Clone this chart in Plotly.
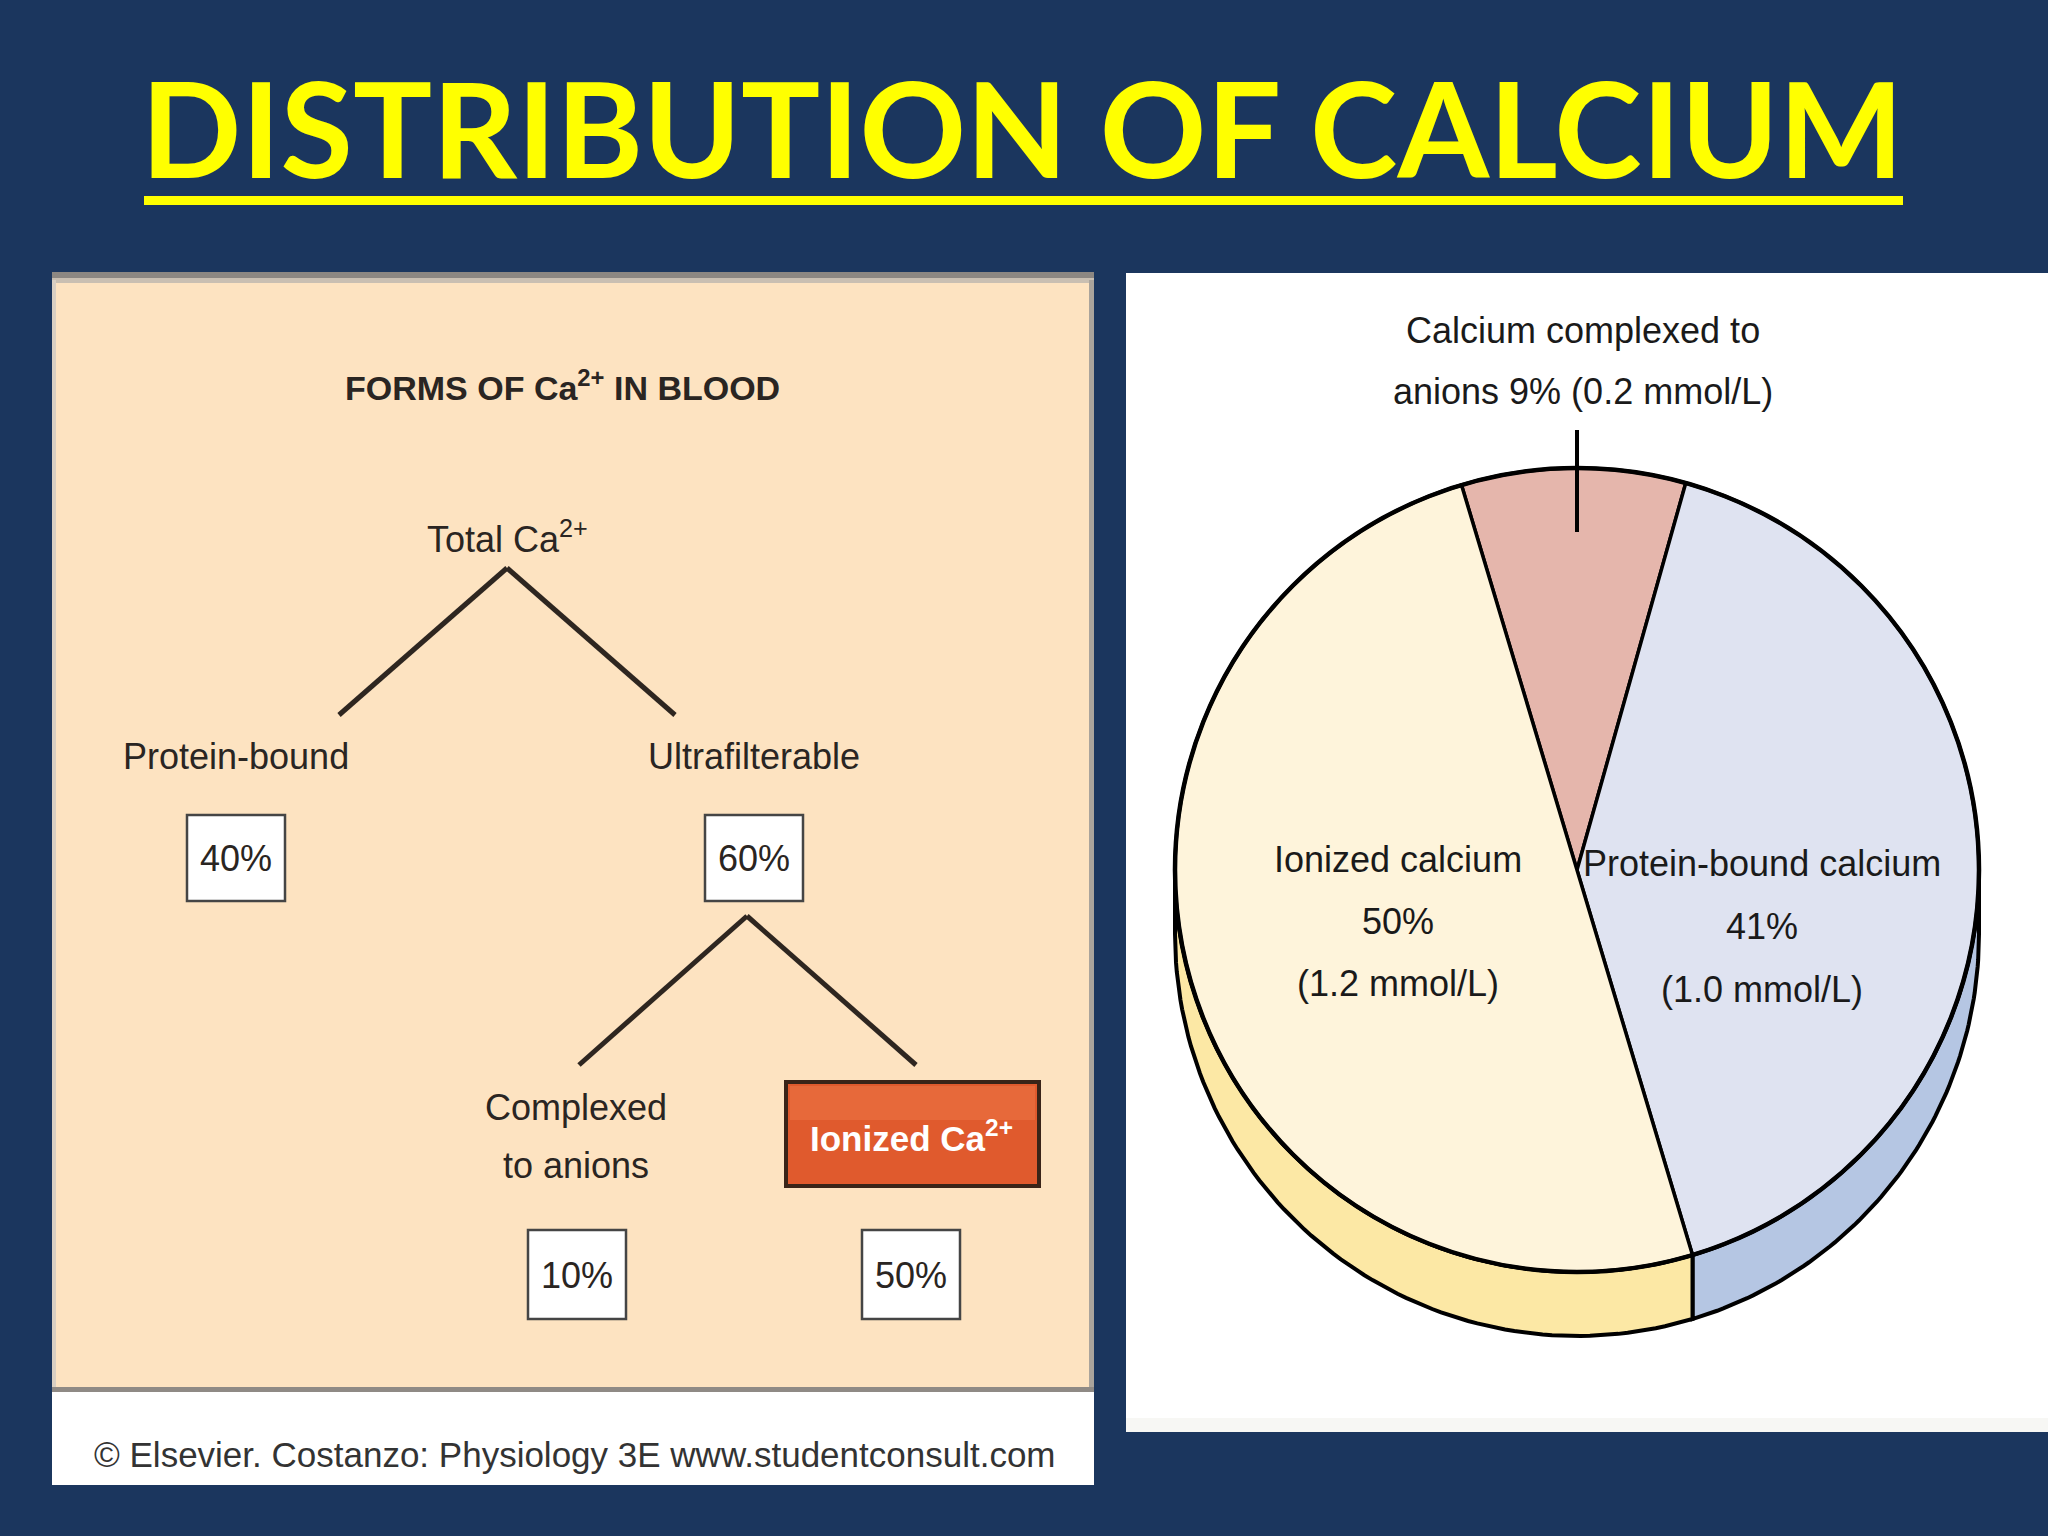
import numpy as np
import plotly.graph_objects as go

W, H = 2048, 1536

# ---------------- data ----------------
title_text = "DISTRIBUTION OF CALCIUM"
panel_title = "FORMS OF Ca<sup>2+</sup> IN BLOOD"
tree_root = "Total Ca<sup>2+</sup>"
tree_level1 = ["Protein-bound", "Ultrafilterable"]
tree_level1_pct = [40, 60]
tree_level2 = ["Complexed<br>to anions", "Ionized Ca<sup>2+</sup>"]
tree_level2_pct = [10, 50]
footer_text = "© Elsevier. Costanzo: Physiology 3E www.studentconsult.com"

pie_names = ["Calcium complexed to anions", "Protein-bound calcium", "Ionized calcium"]
pie_values = [9, 41, 50]
pie_mmol = [0.2, 1.0, 1.2]

# ---------------- styles / positions ----------------
BG = "#1b365e"
SANS = "Liberation Sans, Arial, sans-serif"
TXT = "#2a2522"
PEACH = "#fde3c1"
top_colors = ["#e5b6ac", "#dfe3f1", "#fef4db"]
side_colors = ["#d9a093", "#b5c6e3", "#fce8a5"]

PIE_CX, PIE_CY, PIE_R, PIE_DEPTH = 1577, 870, 402, 64
PIE_ROT = -16.7
LBL = 36

fig = go.Figure()
shapes = []
ann = []


def rect(x0, y0, x1, y1, fill, line_color=None, line_width=0, layer="below"):
    shapes.append(dict(type="rect", xref="x", yref="y", x0=x0, y0=y0, x1=x1, y1=y1,
                       fillcolor=fill, layer=layer,
                       line=dict(color=line_color or fill, width=line_width)))


def seg(x0, y0, x1, y1, color, width, layer="below"):
    shapes.append(dict(type="line", xref="x", yref="y", x0=x0, y0=y0, x1=x1, y1=y1,
                       layer=layer, line=dict(color=color, width=width)))


def text(x, y, s, size=LBL, color=TXT, family=SANS, weight="normal"):
    ann.append(dict(x=x, y=y, xref="x", yref="y", text=s, showarrow=False,
                    xanchor="center", yanchor="middle",
                    font=dict(family=family, size=size, color=color, weight=weight)))


# ---------------- title ----------------
text(1022, 127, title_text, size=132, color="#ffff00", family="Lato, Open Sans, sans-serif", weight="bold")
rect(144, 196, 1903, 205, "#ffff00")

# ---------------- left panel ----------------
rect(52, 272, 1094, 1485, "#ffffff")
rect(54, 280, 1092, 1389, PEACH)
rect(52, 272, 1094, 278, "#8c8782")
rect(52, 278, 1094, 283, "#c9bfb2")
rect(52, 280, 56, 1389, "#d9cfc3")
rect(1089, 280, 1094, 1389, "#aaa49c")
rect(52, 1387, 1094, 1392, "#8f8a85")

text(562, 385, panel_title, size=34, weight="bold")
text(507, 537, tree_root)

# tree lines
seg(507, 568, 339, 715, "#2e2620", 5)
seg(507, 568, 675, 715, "#2e2620", 5)
seg(747, 916, 579, 1065, "#2e2620", 5)
seg(747, 916, 916, 1065, "#2e2620", 5)

lvl1_x = [236, 754]
for name, pct, x in zip(tree_level1, tree_level1_pct, lvl1_x):
    text(x, 756, name)
    rect(x - 49, 815, x + 49, 901, "#ffffff", "#454545", 2.5)
    text(x, 858, f"{pct}%")

# level 2
comp_lines = tree_level2[0].split("<br>")
text(576, 1107, comp_lines[0])
text(576, 1165, comp_lines[1])
rect(786, 1082, 1039, 1186, "#e05a2d", "#3a2418", 4)
rect(790, 1086, 1035, 1120, "#e7693a")
text(911, 1136, tree_level2[1], size=35, color="#ffffff", weight="bold")

lvl2_x = [577, 911]
for pct, x in zip(tree_level2_pct, lvl2_x):
    rect(x - 49, 1230, x + 49, 1319, "#ffffff", "#454545", 2.5)
    text(x, 1275, f"{pct}%")

text(575, 1454, footer_text, size=35, color="#333333")

# ---------------- right panel ----------------
rect(1126, 273, 2048, 1432, "#ffffff")
rect(1126, 1418, 2048, 1432, "#f7f7f4")

# 3D side of the pie, computed from the slice values
total = float(sum(pie_values))
start = PIE_ROT
for v, col in zip(pie_values, side_colors):
    a0, a1 = start, start + 360.0 * v / total
    start = a1
    for off in (0, 360, -360):
        lo, hi = max(a0 + off, 90), min(a1 + off, 270)
        if hi > lo:
            th = np.radians(np.linspace(lo, hi, 80))
            xs = PIE_CX + PIE_R * np.sin(th)
            ys = PIE_CY - PIE_R * np.cos(th)
            px = np.concatenate([xs, xs[::-1], xs[:1]])
            py = np.concatenate([ys, ys[::-1] + PIE_DEPTH, ys[:1]])
            fig.add_trace(go.Scatter(x=px, y=py, mode="lines", fill="toself",
                                     fillcolor=col, line=dict(color="black", width=4),
                                     hoverinfo="skip", showlegend=False))

fig.add_trace(go.Pie(
    values=pie_values, labels=pie_names, sort=False, direction="clockwise",
    rotation=PIE_ROT, textinfo="none", hoverinfo="skip", showlegend=False,
    marker=dict(colors=top_colors, line=dict(color="black", width=3.5)),
    domain=dict(x=[(PIE_CX - PIE_R) / W, (PIE_CX + PIE_R) / W],
                y=[1 - (PIE_CY + PIE_R) / H, 1 - (PIE_CY - PIE_R) / H]),
))

shapes.append(dict(type="circle", xref="x", yref="y", layer="above",
                   x0=PIE_CX - PIE_R, x1=PIE_CX + PIE_R, y0=PIE_CY - PIE_R, y1=PIE_CY + PIE_R,
                   line=dict(color="black", width=4.5)))
seg(1577, 430, 1577, 532, "black", 4, layer="above")

# pie labels
w0 = pie_names[0].split()
text(1583, 330, " ".join(w0[:3]), color="#1a1a1a")
text(1583, 391, f"{w0[3]} {pie_values[0]}% ({pie_mmol[0]:.1f} mmol/L)", color="#1a1a1a")

for i, (x, ys) in zip([2, 1], [(1398, (859, 921, 983)), (1762, (863, 926, 989))]):
    text(x, ys[0], pie_names[i], color="#1a1a1a")
    text(x, ys[1], f"{pie_values[i]}%", color="#1a1a1a")
    text(x, ys[2], f"({pie_mmol[i]:.1f} mmol/L)", color="#1a1a1a")

fig.update_layout(
    width=W, height=H, margin=dict(l=0, r=0, t=0, b=0, pad=0),
    paper_bgcolor=BG, plot_bgcolor=BG,
    xaxis=dict(range=[0, W], visible=False, fixedrange=True, domain=[0, 1]),
    yaxis=dict(range=[H, 0], visible=False, fixedrange=True, domain=[0, 1]),
    shapes=shapes, annotations=ann, showlegend=False,
)

fig.write_html("out.html", config={"displayModeBar": False, "staticPlot": True},
               post_script="document.body.style.margin='0';document.body.style.overflow='hidden';")
